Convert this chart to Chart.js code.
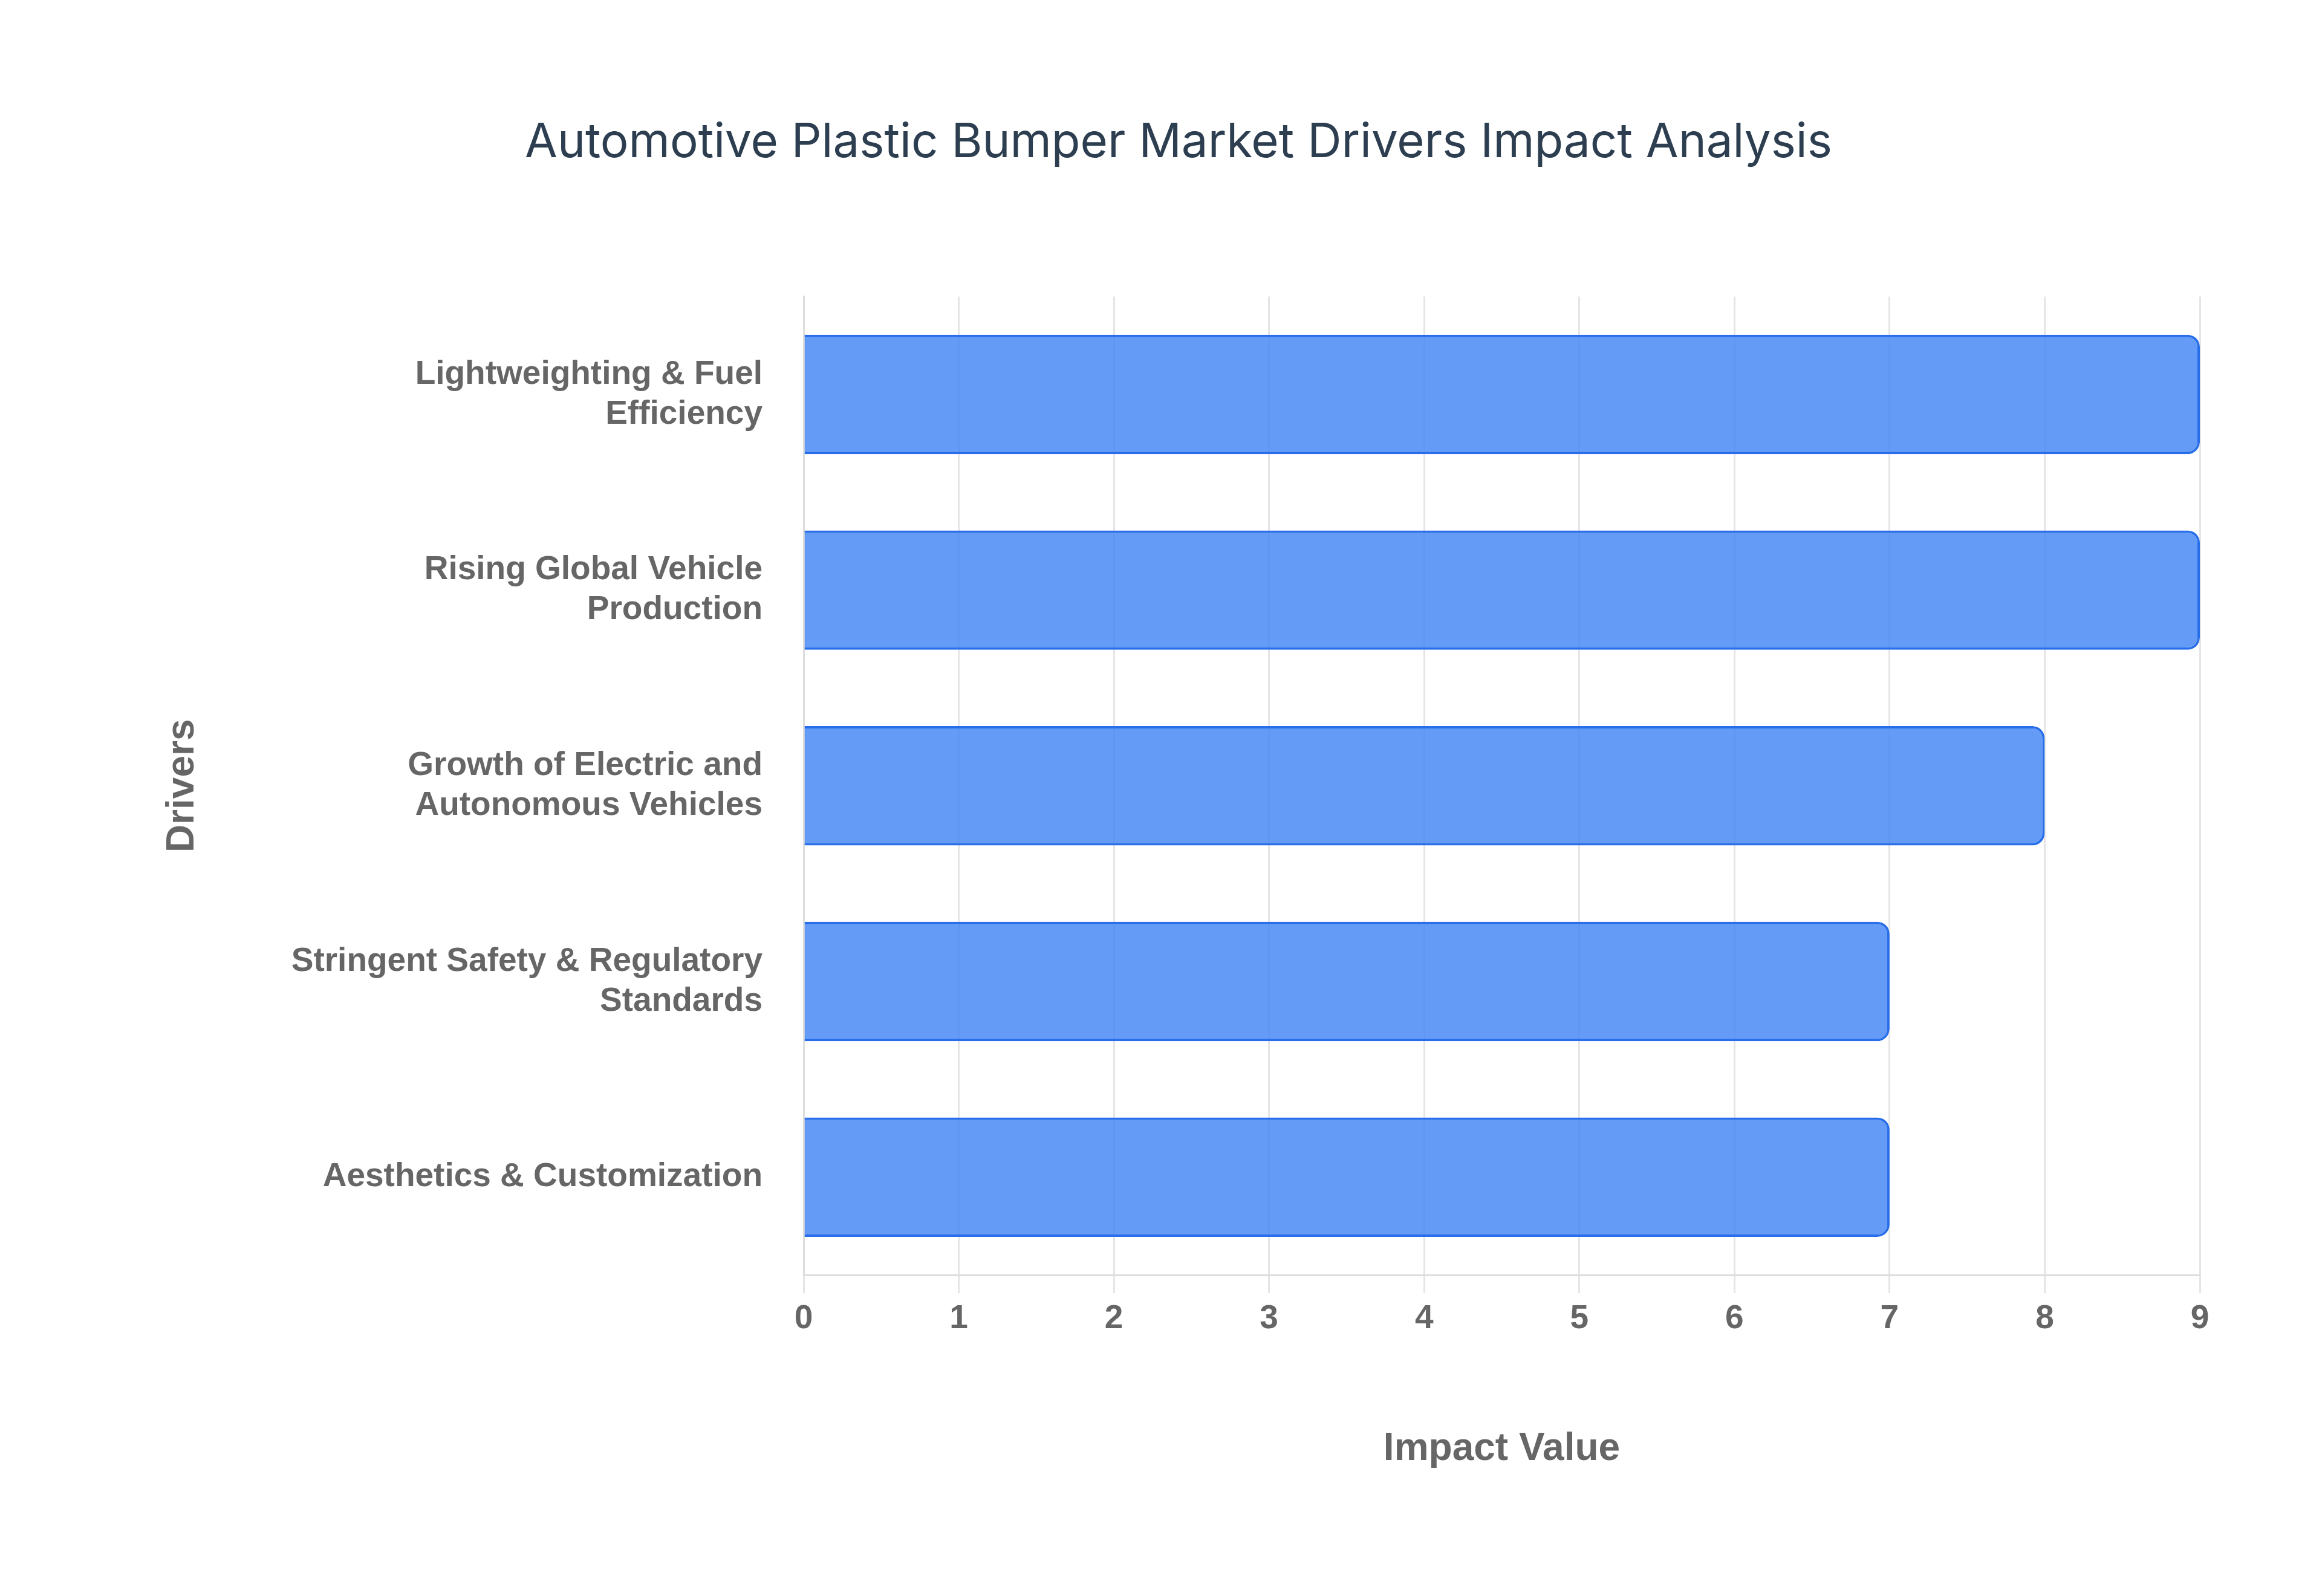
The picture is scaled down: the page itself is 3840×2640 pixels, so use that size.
<!DOCTYPE html>
<html><head><meta charset="utf-8">
<script src="https://cdn.jsdelivr.net/npm/chart.js@4"></script>
<style>html,body{margin:0;padding:0;background:#fff}#wrap{width:3840px;height:2640px}</style>
</head><body><div id="wrap"><canvas id="c" width="3840" height="2640"></canvas></div>
<script>
const categories = [
  ["Lightweighting & Fuel","Efficiency"],
  ["Rising Global Vehicle","Production"],
  ["Growth of Electric and","Autonomous Vehicles"],
  ["Stringent Safety & Regulatory","Standards"],
  ["Aesthetics & Customization"]
];
const impactValues = [9, 9, 8, 7, 7];
const xTicks = [0,1,2,3,4,5,6,7,8,9];

new Chart(document.getElementById('c'), {
  type: 'bar',
  data: { labels: categories, datasets: [{
    data: impactValues,
    backgroundColor: 'rgba(66,133,244,0.82)',
    borderColor: 'rgb(40,110,235)',
    borderWidth: 4,
    borderRadius: 20,
    borderSkipped: 'start',
    categoryPercentage: 1,
    barPercentage: 0.61
  }]},
  options: {
    indexAxis: 'y', responsive: false, animation: false, devicePixelRatio: 1,
    layout: { padding: { left: 260, right: 202, top: 190, bottom: 200 } },
    plugins: {
      legend: { display: false }, tooltip: { enabled: false },
      title: { display: true, text: 'Automotive Plastic Bumper Market Drivers Impact Analysis',
        color: '#2c3e50', font: { family: 'Inter', size: 78, weight: 'normal' }, padding: { top: 0, bottom: 207 } }
    },
    scales: {
      x: { min: 0, max: 9, afterBuildTicks: s => { s.ticks = xTicks.map(v => ({ value: v })); },
        afterFit: s => { s.height = 331; },
        grid: { color: '#e5e5e5', lineWidth: 3, tickLength: 30 },
        border: { color: '#dddddd', width: 3 },
        ticks: { color: '#666', padding: 10, font: { family: 'Liberation Sans', size: 55, weight: 'bold' } },
        title: { display: true, text: 'Impact Value', color: '#666', padding: { top: 60 }, font: { family: 'Liberation Sans', size: 64, weight: 'bold' } }
      },
      y: { afterFit: s => { s.width = 1069; },
        grid: { display: false }, border: { color: '#dddddd', width: 3 },
        ticks: { color: '#666', padding: 60, font: { family: 'Liberation Sans', size: 55, weight: 'bold' } },
        title: { display: true, text: 'Drivers', color: '#666', font: { family: 'Liberation Sans', size: 64, weight: 'bold' } }
      }
    }
  }
});
</script></body></html>
